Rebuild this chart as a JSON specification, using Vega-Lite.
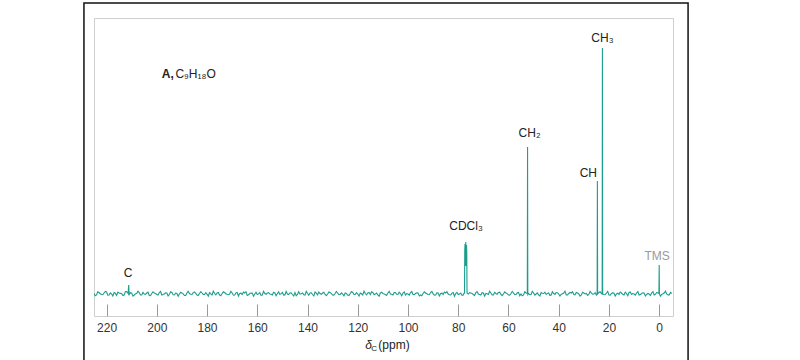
{
  "$schema": "https://vega.github.io/schema/vega-lite/v6.json",
  "width": 579,
  "height": 298,
  "autosize": {"type": "none"},
  "padding": {"left": 94, "top": 18, "right": 127, "bottom": 44},
  "background": "white",
  "config": {
    "view": {"stroke": "#cfcfcf", "strokeWidth": 1},
    "font": "Liberation Sans"
  },
  "layer": [
    {
      "data": {"values": [
        {"ppm":225,"i":0.5},{"ppm":224,"i":-1},{"ppm":223,"i":1.5},{"ppm":222,"i":-0.5},{"ppm":221,"i":1},{"ppm":220,"i":2},{"ppm":219,"i":-1},{"ppm":218,"i":0},{"ppm":217,"i":1.5},{"ppm":216,"i":-1.5},
        {"ppm":215,"i":1},{"ppm":214,"i":0.5},{"ppm":213,"i":-1},{"ppm":212,"i":2.5},{"ppm":211.4,"i":0.5},{"ppm":211.2,"i":9},{"ppm":211.0,"i":-0.5},{"ppm":210,"i":1},{"ppm":209,"i":-1},{"ppm":208,"i":0.5},{"ppm":207,"i":1.5},{"ppm":206,"i":-1},
        {"ppm":205,"i":0},{"ppm":204,"i":1},{"ppm":203,"i":-1.5},{"ppm":202,"i":0.5},{"ppm":201,"i":1},{"ppm":200,"i":-0.5},{"ppm":199,"i":1.5},{"ppm":198,"i":-1},{"ppm":197,"i":0},{"ppm":196,"i":1},
        {"ppm":195,"i":-0.5},{"ppm":194,"i":1.5},{"ppm":193,"i":-1},{"ppm":192,"i":0.5},{"ppm":191,"i":0},{"ppm":190,"i":1},{"ppm":189,"i":-1.5},{"ppm":188,"i":1},{"ppm":187,"i":0.5},{"ppm":186,"i":-0.5},
        {"ppm":185,"i":2},{"ppm":184,"i":-1},{"ppm":183,"i":0.5},{"ppm":182,"i":1},{"ppm":181,"i":-0.5},{"ppm":180,"i":0},{"ppm":179,"i":1.5},{"ppm":178,"i":-1},{"ppm":177,"i":0.5},{"ppm":176,"i":1},
        {"ppm":175,"i":-1},{"ppm":174,"i":0.5},{"ppm":173,"i":1.5},{"ppm":172,"i":-0.5},{"ppm":171,"i":0},{"ppm":170,"i":1},{"ppm":169,"i":-1},{"ppm":168,"i":1.5},{"ppm":167,"i":0.5},{"ppm":166,"i":-0.5},
        {"ppm":165,"i":1},{"ppm":164,"i":-1.5},{"ppm":163,"i":0.5},{"ppm":162,"i":1},{"ppm":161,"i":0},{"ppm":160,"i":-0.5},{"ppm":159,"i":1.5},{"ppm":158,"i":-1},{"ppm":157,"i":0.5},{"ppm":156,"i":1},
        {"ppm":155,"i":0},{"ppm":154,"i":-1},{"ppm":153,"i":1},{"ppm":152,"i":0.5},{"ppm":151,"i":-0.5},{"ppm":150,"i":1.5},{"ppm":149,"i":-1},{"ppm":148,"i":0},{"ppm":147,"i":1},{"ppm":146,"i":-0.5},
        {"ppm":145,"i":1.5},{"ppm":144,"i":-0.5},{"ppm":143,"i":0},{"ppm":142,"i":1},{"ppm":141,"i":-1},{"ppm":140,"i":0.5},{"ppm":139,"i":1},{"ppm":138,"i":-0.5},{"ppm":137,"i":2},{"ppm":136,"i":-1},
        {"ppm":135,"i":0.5},{"ppm":134,"i":1},{"ppm":133,"i":-0.5},{"ppm":132,"i":0},{"ppm":131,"i":1.5},{"ppm":130,"i":-1},{"ppm":129,"i":0.5},{"ppm":128,"i":1},{"ppm":127,"i":-0.5},{"ppm":126,"i":0},
        {"ppm":125,"i":1},{"ppm":124,"i":-1},{"ppm":123,"i":0.5},{"ppm":122,"i":1.5},{"ppm":121,"i":-0.5},{"ppm":120,"i":0},{"ppm":119,"i":1},{"ppm":118,"i":-1},{"ppm":117,"i":0.5},{"ppm":116,"i":1},
        {"ppm":115,"i":-0.5},{"ppm":114,"i":1.5},{"ppm":113,"i":0},{"ppm":112,"i":-1},{"ppm":111,"i":1},{"ppm":110,"i":0.5},{"ppm":109,"i":-0.5},{"ppm":108,"i":1},{"ppm":107,"i":0},{"ppm":106,"i":-1},
        {"ppm":105,"i":1.5},{"ppm":104,"i":-0.5},{"ppm":103,"i":0.5},{"ppm":102,"i":1},{"ppm":101,"i":-1},{"ppm":100,"i":0},{"ppm":99,"i":1.5},{"ppm":98,"i":-0.5},{"ppm":97,"i":0.5},{"ppm":96,"i":1},
        {"ppm":95,"i":-1},{"ppm":94,"i":0.5},{"ppm":93,"i":1},{"ppm":92,"i":-0.5},{"ppm":91,"i":1.5},{"ppm":90,"i":0},{"ppm":89,"i":-1},{"ppm":88,"i":1},{"ppm":87,"i":0.5},{"ppm":86,"i":-0.5},
        {"ppm":85,"i":1},{"ppm":84,"i":0},{"ppm":83,"i":-1},{"ppm":82,"i":1.5},{"ppm":81,"i":0.5},{"ppm":80,"i":-0.5},{"ppm":79,"i":1},{"ppm":78,"i":-1},
        {"ppm":77.9,"i":0},{"ppm":77.5,"i":1},{"ppm":77.4,"i":44},{"ppm":77.3,"i":50},{"ppm":77.15,"i":28},{"ppm":77.0,"i":52},{"ppm":76.85,"i":28},{"ppm":76.7,"i":49},{"ppm":76.6,"i":42},{"ppm":76.5,"i":1},
        {"ppm":76,"i":0},
        {"ppm":75,"i":1},{"ppm":74,"i":-0.5},{"ppm":73,"i":1.5},{"ppm":72,"i":0},{"ppm":71,"i":-1},{"ppm":70,"i":1},{"ppm":69,"i":0.5},{"ppm":68,"i":-0.5},{"ppm":67,"i":1},{"ppm":66,"i":-1},
        {"ppm":65,"i":0.5},{"ppm":64,"i":1.5},{"ppm":63,"i":-0.5},{"ppm":62,"i":0},{"ppm":61,"i":1},{"ppm":60,"i":-1},{"ppm":59,"i":0.5},{"ppm":58,"i":1},{"ppm":57,"i":-0.5},{"ppm":56,"i":1.5},
        {"ppm":55,"i":0},{"ppm":54,"i":-1},{"ppm":53,"i":1},{"ppm":52.5,"i":0.5},{"ppm":52.4,"i":147},{"ppm":52.3,"i":-0.5},{"ppm":52,"i":0.5},{"ppm":51,"i":-0.5},{"ppm":50,"i":1},{"ppm":49,"i":0},{"ppm":48,"i":-1},{"ppm":47,"i":1.5},{"ppm":46,"i":0.5},
        {"ppm":45,"i":-0.5},{"ppm":44,"i":1},{"ppm":43,"i":-1},{"ppm":42,"i":0.5},{"ppm":41,"i":1.5},{"ppm":40,"i":0},{"ppm":39,"i":-0.5},{"ppm":38,"i":1},{"ppm":37,"i":-1},{"ppm":36,"i":0.5},
        {"ppm":35,"i":1},{"ppm":34,"i":-0.5},{"ppm":33,"i":1.5},{"ppm":32,"i":0},{"ppm":31,"i":-1},{"ppm":30,"i":1},{"ppm":29,"i":0.5},{"ppm":28,"i":-0.5},{"ppm":27,"i":1},{"ppm":26,"i":0},
        {"ppm":25,"i":-1},{"ppm":24.7,"i":0.5},{"ppm":24.6,"i":113},{"ppm":24.5,"i":0},{"ppm":24,"i":1.5},{"ppm":23,"i":0.5},{"ppm":22.7,"i":0},{"ppm":22.6,"i":246},{"ppm":22.5,"i":0},{"ppm":22,"i":-0.5},{"ppm":21,"i":1},{"ppm":20,"i":-1},{"ppm":19,"i":0.5},{"ppm":18,"i":1},{"ppm":17,"i":0},{"ppm":16,"i":-0.5},
        {"ppm":15,"i":1},{"ppm":14,"i":-1},{"ppm":13,"i":0.5},{"ppm":12,"i":1.5},{"ppm":11,"i":-0.5},{"ppm":10,"i":0},{"ppm":9,"i":1},{"ppm":8,"i":-1},{"ppm":7,"i":0.5},{"ppm":6,"i":1},
        {"ppm":5,"i":-0.5},{"ppm":4,"i":0},{"ppm":3,"i":1},{"ppm":2,"i":-1},{"ppm":1,"i":1.5},{"ppm":0.1,"i":0.5},{"ppm":0,"i":29},{"ppm":-0.1,"i":0},
        {"ppm":-1,"i":-0.5},{"ppm":-2,"i":1},{"ppm":-3,"i":0},{"ppm":-4,"i":-1},{"ppm":-5,"i":0.5},

        {"ppm":224.5,"i":-1.8},{"ppm":223.5,"i":2.2},{"ppm":222.5,"i":0.3},{"ppm":221.5,"i":-0.7},{"ppm":220.5,"i":2.6},{"ppm":219.5,"i":-1.2},{"ppm":218.5,"i":1.1},{"ppm":217.5,"i":-2},{"ppm":216.5,"i":0.8},{"ppm":215.5,"i":1.9},
        {"ppm":214.5,"i":0.6},{"ppm":213.5,"i":-1.5},{"ppm":212.5,"i":2.4},{"ppm":210.5,"i":1.3},{"ppm":209.5,"i":-2.1},{"ppm":208.5,"i":0.2},{"ppm":207.5,"i":2.8},{"ppm":206.5,"i":-0.9},{"ppm":205.5,"i":1.6},
        {"ppm":204.5,"i":-0.3},{"ppm":203.5,"i":1.8},{"ppm":202.5,"i":-1.7},{"ppm":201.5,"i":2.1},{"ppm":200.5,"i":0.4},{"ppm":199.5,"i":-1.1},{"ppm":198.5,"i":2.5},{"ppm":197.5,"i":-0.6},{"ppm":196.5,"i":1.2},{"ppm":195.5,"i":-1.9},
        {"ppm":194.5,"i":2.3},{"ppm":193.5,"i":-0.8},{"ppm":192.5,"i":0.9},{"ppm":191.5,"i":-2.2},{"ppm":190.5,"i":1.7},{"ppm":189.5,"i":0.1},{"ppm":188.5,"i":-1.4},{"ppm":187.5,"i":2.7},{"ppm":186.5,"i":-0.2},{"ppm":185.5,"i":1.4},
        {"ppm":184.5,"i":0.6},{"ppm":183.5,"i":-1.5},{"ppm":182.5,"i":2.4},{"ppm":181.5,"i":-0.4},{"ppm":180.5,"i":1.3},{"ppm":179.5,"i":-2.1},{"ppm":178.5,"i":0.2},{"ppm":177.5,"i":2.8},{"ppm":176.5,"i":-0.9},{"ppm":175.5,"i":1.6},
        {"ppm":174.5,"i":-1.8},{"ppm":173.5,"i":2.2},{"ppm":172.5,"i":0.3},{"ppm":171.5,"i":-0.7},{"ppm":170.5,"i":2.6},{"ppm":169.5,"i":-1.2},{"ppm":168.5,"i":1.1},{"ppm":167.5,"i":-2},{"ppm":166.5,"i":0.8},{"ppm":165.5,"i":1.9},
        {"ppm":164.5,"i":2.3},{"ppm":163.5,"i":-0.8},{"ppm":162.5,"i":0.9},{"ppm":161.5,"i":-2.2},{"ppm":160.5,"i":1.7},{"ppm":159.5,"i":0.1},{"ppm":158.5,"i":-1.4},{"ppm":157.5,"i":2.7},{"ppm":156.5,"i":-0.2},{"ppm":155.5,"i":1.4},
        {"ppm":154.5,"i":-0.3},{"ppm":153.5,"i":1.8},{"ppm":152.5,"i":-1.7},{"ppm":151.5,"i":2.1},{"ppm":150.5,"i":0.4},{"ppm":149.5,"i":-1.1},{"ppm":148.5,"i":2.5},{"ppm":147.5,"i":-0.6},{"ppm":146.5,"i":1.2},{"ppm":145.5,"i":-1.9},
        {"ppm":144.5,"i":-1.8},{"ppm":143.5,"i":2.2},{"ppm":142.5,"i":0.3},{"ppm":141.5,"i":-0.7},{"ppm":140.5,"i":2.6},{"ppm":139.5,"i":-1.2},{"ppm":138.5,"i":1.1},{"ppm":137.5,"i":-2},{"ppm":136.5,"i":0.8},{"ppm":135.5,"i":1.9},
        {"ppm":134.5,"i":-0.3},{"ppm":133.5,"i":1.8},{"ppm":132.5,"i":-1.7},{"ppm":131.5,"i":2.1},{"ppm":130.5,"i":0.4},{"ppm":129.5,"i":-1.1},{"ppm":128.5,"i":2.5},{"ppm":127.5,"i":-0.6},{"ppm":126.5,"i":1.2},{"ppm":125.5,"i":-1.9},
        {"ppm":124.5,"i":0.6},{"ppm":123.5,"i":-1.5},{"ppm":122.5,"i":2.4},{"ppm":121.5,"i":-0.4},{"ppm":120.5,"i":1.3},{"ppm":119.5,"i":-2.1},{"ppm":118.5,"i":0.2},{"ppm":117.5,"i":2.8},{"ppm":116.5,"i":-0.9},{"ppm":115.5,"i":1.6},
        {"ppm":114.5,"i":2.3},{"ppm":113.5,"i":-0.8},{"ppm":112.5,"i":0.9},{"ppm":111.5,"i":-2.2},{"ppm":110.5,"i":1.7},{"ppm":109.5,"i":0.1},{"ppm":108.5,"i":-1.4},{"ppm":107.5,"i":2.7},{"ppm":106.5,"i":-0.2},{"ppm":105.5,"i":1.4},
        {"ppm":104.5,"i":-0.3},{"ppm":103.5,"i":1.8},{"ppm":102.5,"i":-1.7},{"ppm":101.5,"i":2.1},{"ppm":100.5,"i":0.4},{"ppm":99.5,"i":-1.1},{"ppm":98.5,"i":2.5},{"ppm":97.5,"i":-0.6},{"ppm":96.5,"i":1.2},{"ppm":95.5,"i":-1.9},
        {"ppm":94.5,"i":-1.8},{"ppm":93.5,"i":2.2},{"ppm":92.5,"i":0.3},{"ppm":91.5,"i":-0.7},{"ppm":90.5,"i":2.6},{"ppm":89.5,"i":-1.2},{"ppm":88.5,"i":1.1},{"ppm":87.5,"i":-2},{"ppm":86.5,"i":0.8},{"ppm":85.5,"i":1.9},
        {"ppm":84.5,"i":2.3},{"ppm":83.5,"i":-0.8},{"ppm":82.5,"i":0.9},{"ppm":81.5,"i":-2.2},{"ppm":80.5,"i":1.7},{"ppm":79.5,"i":0.1},{"ppm":78.5,"i":-1.4},{"ppm":75.5,"i":1.4},
        {"ppm":74.5,"i":0.6},{"ppm":73.5,"i":-1.5},{"ppm":72.5,"i":2.4},{"ppm":71.5,"i":-0.4},{"ppm":70.5,"i":1.3},{"ppm":69.5,"i":-2.1},{"ppm":68.5,"i":0.2},{"ppm":67.5,"i":2.8},{"ppm":66.5,"i":-0.9},{"ppm":65.5,"i":1.6},
        {"ppm":64.5,"i":-0.3},{"ppm":63.5,"i":1.8},{"ppm":62.5,"i":-1.7},{"ppm":61.5,"i":2.1},{"ppm":60.5,"i":0.4},{"ppm":59.5,"i":-1.1},{"ppm":58.5,"i":2.5},{"ppm":57.5,"i":-0.6},{"ppm":56.5,"i":1.2},{"ppm":55.5,"i":-1.9},
        {"ppm":54.5,"i":-1.8},{"ppm":53.5,"i":2.2},{"ppm":51.5,"i":-0.7},{"ppm":50.5,"i":2.6},{"ppm":49.5,"i":-1.2},{"ppm":48.5,"i":1.1},{"ppm":47.5,"i":-2},{"ppm":46.5,"i":0.8},{"ppm":45.5,"i":1.9},
        {"ppm":44.5,"i":0.6},{"ppm":43.5,"i":-1.5},{"ppm":42.5,"i":2.4},{"ppm":41.5,"i":-0.4},{"ppm":40.5,"i":1.3},{"ppm":39.5,"i":-2.1},{"ppm":38.5,"i":0.2},{"ppm":37.5,"i":2.8},{"ppm":36.5,"i":-0.9},{"ppm":35.5,"i":1.6},
        {"ppm":34.5,"i":2.3},{"ppm":33.5,"i":-0.8},{"ppm":32.5,"i":0.9},{"ppm":31.5,"i":-2.2},{"ppm":30.5,"i":1.7},{"ppm":29.5,"i":0.1},{"ppm":28.5,"i":-1.4},{"ppm":27.5,"i":2.7},{"ppm":26.5,"i":-0.2},{"ppm":25.5,"i":1.4},
        {"ppm":23.5,"i":2.2},{"ppm":21.5,"i":-0.7},{"ppm":20.5,"i":2.6},{"ppm":19.5,"i":-1.2},{"ppm":18.5,"i":1.1},{"ppm":17.5,"i":-2},{"ppm":16.5,"i":0.8},{"ppm":15.5,"i":1.9},
        {"ppm":14.5,"i":-0.3},{"ppm":13.5,"i":1.8},{"ppm":12.5,"i":-1.7},{"ppm":11.5,"i":2.1},{"ppm":10.5,"i":0.4},{"ppm":9.5,"i":-1.1},{"ppm":8.5,"i":2.5},{"ppm":7.5,"i":-0.6},{"ppm":6.5,"i":1.2},{"ppm":5.5,"i":-1.9},
        {"ppm":4.5,"i":0.6},{"ppm":3.5,"i":-1.5},{"ppm":2.5,"i":2.4},{"ppm":1.5,"i":-0.4},{"ppm":0.5,"i":1.3},{"ppm":-0.5,"i":-2.1},{"ppm":-1.5,"i":0.2},{"ppm":-2.5,"i":2.8},{"ppm":-3.5,"i":-0.9},{"ppm":-4.5,"i":1.6}
      ]},
      "mark": {"type": "line", "color": "#1d9e8d", "strokeWidth": 1.1, "clip": true},
      "encoding": {
        "x": {
          "field": "ppm", "type": "quantitative",
          "scale": {"domain": [-5.5, 225], "reverse": true, "nice": false, "zero": false},
          "axis": {
            "values": [220,215,210,205,200,195,190,185,180,175,170,165,160,155,150,145,140,135,130,125,120,115,110,105,100,95,90,85,80,75,70,65,60,55,50,45,40,35,30,25,20,15,10,5,0],
            "domain": false,
            "grid": false,
            "tickColor": "#9a9a9a",
            "tickWidth": 1,
            "tickSize": {"condition": {"test": "datum.value % 10 === 0", "value": -12}, "value": -5},
            "labelExpr": "datum.value % 20 === 0 ? datum.label : ''",
            "labelFont": "Liberation Sans",
            "labelFontSize": 12,
            "labelColor": "#333333",
            "labelPadding": 18,
            "labelFlush": false,
            "title": null
          }
        },
        "y": {"field": "i", "type": "quantitative", "scale": {"domain": [-22, 276], "nice": false, "zero": false}, "axis": null}
      }
    },
    {
      "data": {"values": [
        {"label": "CH₃", "ppm": 22.6, "i": 256},
        {"label": "CH₂", "ppm": 51.6, "i": 161},
        {"label": "CH", "ppm": 28.2, "i": 121},
        {"label": "CDCl₃", "ppm": 76.9, "i": 68},
        {"label": "TMS", "ppm": 0.8, "i": 38},
        {"label": "C", "ppm": 211.4, "i": 21}
      ]},
      "mark": {"type": "text", "font": "Liberation Sans", "fontSize": 12, "align": "center", "baseline": "middle"},
      "encoding": {
        "x": {"field": "ppm", "type": "quantitative"},
        "y": {"field": "i", "type": "quantitative"},
        "text": {"field": "label"},
        "color": {"condition": {"test": "datum.label === 'TMS'", "value": "#9a9a9a"}, "value": "#222222"}
      }
    },
    {
      "data": {"values": [{"label": "A,", "ppm": 198.0, "i": 220}]},
      "mark": {"type": "text", "font": "Liberation Sans", "fontSize": 12, "fontWeight": "bold", "align": "left", "baseline": "middle", "color": "#222222"},
      "encoding": {
        "x": {"field": "ppm", "type": "quantitative"},
        "y": {"field": "i", "type": "quantitative"},
        "text": {"field": "label"}
      }
    },
    {
      "data": {"values": [{"label": "C₉H₁₈O", "ppm": 192.6, "i": 220}]},
      "mark": {"type": "text", "font": "Liberation Sans", "fontSize": 12, "align": "left", "baseline": "middle", "color": "#222222"},
      "encoding": {
        "x": {"field": "ppm", "type": "quantitative"},
        "y": {"field": "i", "type": "quantitative"},
        "text": {"field": "label"}
      }
    },
    {
      "data": {"values": [{"label": "δ", "ppm": 117.0, "i": -51}]},
      "mark": {"type": "text", "font": "Liberation Sans", "fontSize": 12, "fontStyle": "italic", "align": "left", "baseline": "middle", "color": "#222222"},
      "encoding": {
        "x": {"field": "ppm", "type": "quantitative"},
        "y": {"field": "i", "type": "quantitative"},
        "text": {"field": "label"}
      }
    },
    {
      "data": {"values": [{"label": "C", "ppm": 114.6, "i": -55}]},
      "mark": {"type": "text", "font": "Liberation Sans", "fontSize": 8, "align": "left", "baseline": "middle", "color": "#222222"},
      "encoding": {
        "x": {"field": "ppm", "type": "quantitative"},
        "y": {"field": "i", "type": "quantitative"},
        "text": {"field": "label"}
      }
    },
    {
      "data": {"values": [{"label": "(ppm)", "ppm": 111.8, "i": -51}]},
      "mark": {"type": "text", "font": "Liberation Sans", "fontSize": 12, "align": "left", "baseline": "middle", "color": "#222222"},
      "encoding": {
        "x": {"field": "ppm", "type": "quantitative"},
        "y": {"field": "i", "type": "quantitative"},
        "text": {"field": "label"}
      }
    },
    {
      "data": {"values": [{"x1": 229, "x2": -11.5, "y1": 291, "y2": -80}]},
      "mark": {"type": "rect", "fill": "transparent", "stroke": "#111111", "strokeWidth": 1.5, "clip": false},
      "encoding": {
        "x": {"field": "x1", "type": "quantitative"},
        "x2": {"field": "x2"},
        "y": {"field": "y1", "type": "quantitative"},
        "y2": {"field": "y2"}
      }
    }
  ]
}
